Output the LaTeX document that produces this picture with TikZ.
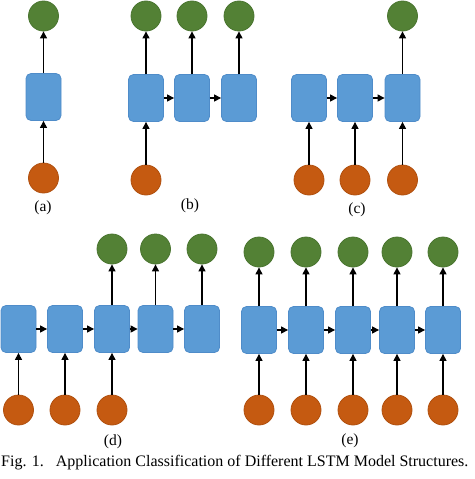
\documentclass[tikz,border=0pt]{standalone}
\usepackage{fontspec}
\setmainfont{Liberation Serif}
\usetikzlibrary{arrows.meta}
\definecolor{boxblue}{HTML}{5B9BD5}
\definecolor{boxedge}{HTML}{4F8CC9}
\definecolor{outgreen}{HTML}{538135}
\definecolor{outedge}{HTML}{4A7530}
\definecolor{inorange}{HTML}{C55A11}
\definecolor{inedge}{HTML}{B0500F}
\tikzset{
  cell/.style={draw=boxedge, fill=boxblue, line width=0.8pt, rounded corners=5pt, minimum width=35pt, minimum height=47pt, inner sep=0pt},
  outc/.style={circle, draw=outedge, fill=outgreen, line width=0.8pt, minimum size=30pt, inner sep=0pt},
  inc/.style={circle, draw=inedge, fill=inorange, line width=0.8pt, minimum size=30pt, inner sep=0pt},
  conn/.style={-{Triangle[length=7pt,width=7pt]}, line width=1.1pt, black},
  lab/.style={font=\fontsize{15.5}{18}\selectfont, inner sep=0pt},
}
\begin{document}
\begin{tikzpicture}[x=1pt,y=-1pt]
\useasboundingbox (0,0) rectangle (474,479);
% (a)
\node[cell] (a1) at (43.5,97) {};
\node[outc] (ag1) at (43.5,16) {};
\node[inc] (ai1) at (43.5,178) {};
\draw[conn] (ai1) -- (a1);
\draw[conn] (a1) -- (ag1);
\node[lab] (la) at (43,208) {(a)};
% (b)
\foreach \i/\x in {1/146,2/192,3/239}{
  \node[cell] (b\i) at (\x,98) {};
  \node[outc] (bg\i) at (\x,16) {};
}
\node[inc] (bi1) at (146,180) {};
\draw[conn] (bi1) -- (b1);
\foreach \i in {1,2,3}{\draw[conn] (b\i) -- (bg\i);}
\draw[conn] (b1) -- (b2);
\draw[conn] (b2) -- (b3);
\node[lab] (lb) at (190,206) {(b)};
% (c)
\foreach \i/\x in {1/309,2/355,3/402.5}{
  \node[cell] (c\i) at (\x,98) {};
  \node[inc] (ci\i) at (\x,180) {};
  \draw[conn] (ci\i) -- (c\i);
}
\node[outc] (cg3) at (402.5,16) {};
\draw[conn] (c3) -- (cg3);
\draw[conn] (c1) -- (c2);
\draw[conn] (c2) -- (c3);
\node[lab] (lc) at (357,210) {(c)};
% (d)
\foreach \i/\x in {1/18.5,2/65,3/112,4/155.5,5/202}{
  \node[cell] (d\i) at (\x,329) {};
}
\foreach \i in {1,2,3}{
  \node[inc] (di\i) at (d\i |- 0,410) {};
  \draw[conn] (di\i) -- (d\i);
}
\foreach \i in {3,4,5}{
  \node[outc] (dg\i) at (d\i |- 0,249) {};
  \draw[conn] (d\i) -- (dg\i);
}
\draw[conn] (d1) -- (d2);
\draw[conn] (d2) -- (d3);
\draw[conn] (d3) -- (d4);
\draw[conn] (d4) -- (d5);
\node[lab] (ld) at (113,442) {(d)};
% (e)
\foreach \i/\x in {1/259,2/306,3/353,4/397,5/443}{
  \node[cell] (e\i) at (\x,330) {};
  \node[outc] (eg\i) at (\x,252) {};
  \node[inc] (ei\i) at (\x,410) {};
  \draw[conn] (ei\i) -- (e\i);
  \draw[conn] (e\i) -- (eg\i);
}
\draw[conn] (e1) -- (e2);
\draw[conn] (e2) -- (e3);
\draw[conn] (e3) -- (e4);
\draw[conn] (e4) -- (e5);
\node[lab] (le) at (350,441) {(e)};
% caption
\node[lab, anchor=west, font=\fontsize{16}{18}\selectfont] (cap) at (1,463) {Fig. 1.\hspace{12pt}Application Classification of Different LSTM Model Structures.};
\end{tikzpicture}
\end{document}
